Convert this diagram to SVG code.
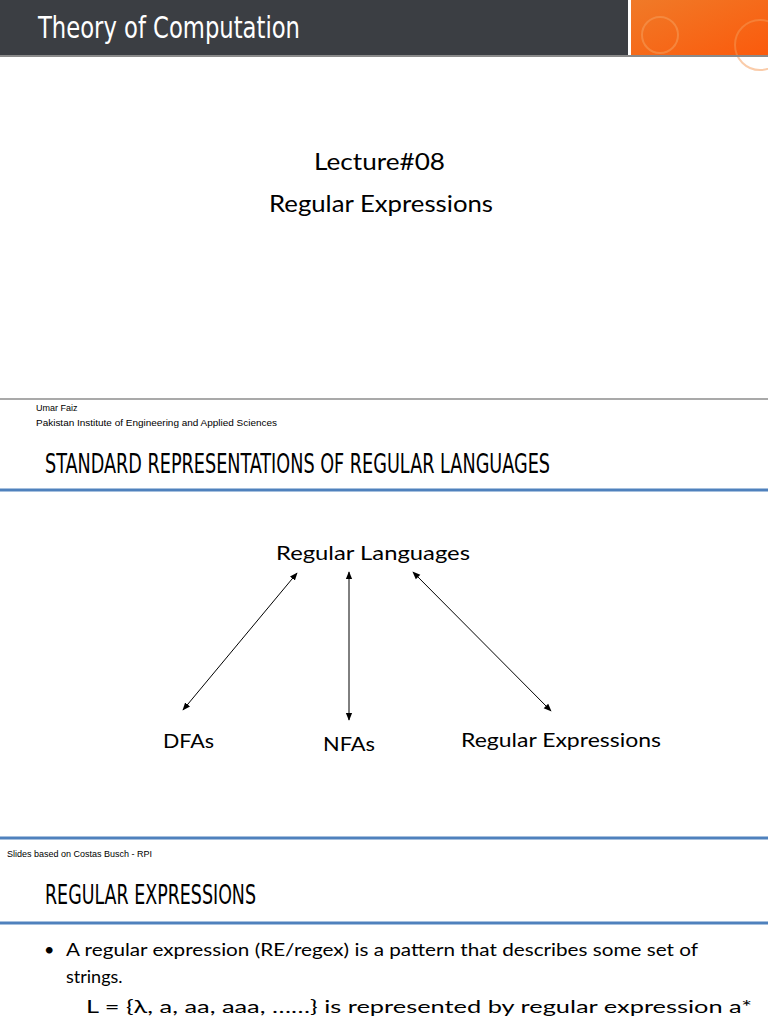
<svg xmlns="http://www.w3.org/2000/svg" width="768" height="1024" viewBox="0 0 768 1024">
<style>
.cond{font-family:"DejaVu Sans Condensed","DejaVu Sans",sans-serif;font-stretch:condensed}
.gill{font-family:Lato,"Liberation Sans",sans-serif;fill:#000}
.small{font-family:"Liberation Sans",sans-serif;font-size:9px;fill:#000}
.conn line{stroke:#000;stroke-width:1;marker-start:url(#ah);marker-end:url(#ah)}
</style>
<defs>
<marker id="ah" viewBox="0 0 10 10" refX="9" refY="5" markerWidth="8" markerHeight="8" orient="auto-start-reverse" markerUnits="userSpaceOnUse"><path d="M0,1 L10,5 L0,9 z" fill="#000"/></marker>
<linearGradient id="org" x1="0" y1="0" x2="1" y2="1"><stop offset="0" stop-color="#f07a28"/><stop offset="1" stop-color="#fb5a0c"/></linearGradient>
</defs>
<rect width="768" height="1024" fill="#fff"/>
<rect x="0" y="0" width="628" height="56" fill="#3b3e43"/>
<rect x="631" y="0" width="137" height="56" fill="url(#org)"/>
<circle cx="660" cy="35" r="18" fill="none" stroke="#f59a55" stroke-width="2" opacity="0.6"/>
<circle cx="760" cy="45" r="25" fill="none" stroke="#f59a55" stroke-width="2" opacity="0.5"/>
<rect x="0" y="55" width="768" height="2" fill="#8a8a8a"/>
<text class="cond" x="38" y="38" font-size="31" fill="#fff" textLength="262" lengthAdjust="spacingAndGlyphs">Theory of Computation</text>
<text class="gill" x="314" y="170" font-size="23" textLength="131" lengthAdjust="spacingAndGlyphs">Lecture#08</text>
<text class="gill" x="269" y="212" font-size="23" textLength="224" lengthAdjust="spacingAndGlyphs">Regular Expressions</text>
<line x1="0" y1="399" x2="768" y2="399" stroke="#8c8c8c" stroke-width="1.5"/>
<text class="small" x="36" y="411">Umar Faiz</text>
<text class="small" x="36" y="426" textLength="241" lengthAdjust="spacingAndGlyphs">Pakistan Institute of Engineering and Applied Sciences</text>
<text class="cond" x="45" y="473" font-size="26" fill="#000" textLength="505" lengthAdjust="spacingAndGlyphs">STANDARD REPRESENTATIONS OF REGULAR LANGUAGES</text>
<line x1="0" y1="490" x2="768" y2="490" stroke="#4f81bd" stroke-width="3"/>
<g id="node-rl"><text class="gill" x="276" y="560" font-size="20" textLength="194" lengthAdjust="spacingAndGlyphs">Regular Languages</text></g>
<g id="node-dfa"><text class="gill" x="163" y="748" font-size="20" textLength="51" lengthAdjust="spacingAndGlyphs">DFAs</text></g>
<g id="node-nfa"><text class="gill" x="323" y="751" font-size="20" textLength="52" lengthAdjust="spacingAndGlyphs">NFAs</text></g>
<g id="node-re"><text class="gill" x="461" y="747" font-size="20" textLength="200" lengthAdjust="spacingAndGlyphs">Regular Expressions</text></g>
<g class="conn" id="connectors">
<line x1="297" y1="573" x2="183" y2="710"/>
<line x1="349" y1="572" x2="349" y2="720"/>
<line x1="413" y1="572" x2="551" y2="711"/>
</g>
<line x1="0" y1="838" x2="768" y2="838" stroke="#4f81bd" stroke-width="3"/>
<text class="small" x="7" y="857">Slides based on Costas Busch - RPI</text>
<text class="cond" x="45" y="904" font-size="26" fill="#000" textLength="211" lengthAdjust="spacingAndGlyphs">REGULAR EXPRESSIONS</text>
<line x1="0" y1="923" x2="768" y2="923" stroke="#4f81bd" stroke-width="3"/>
<text class="gill" x="44" y="956" font-size="18">•</text>
<text class="gill" x="66" y="956" font-size="18" textLength="632" lengthAdjust="spacingAndGlyphs">A regular expression (RE/regex) is a pattern that describes some set of</text>
<text class="gill" x="66" y="983" font-size="18">strings.</text>
<text class="gill" x="86" y="1013" font-size="17" textLength="666" lengthAdjust="spacingAndGlyphs">L = {λ, a, aa, aaa, ……} is represented by regular expression a*</text>
</svg>
